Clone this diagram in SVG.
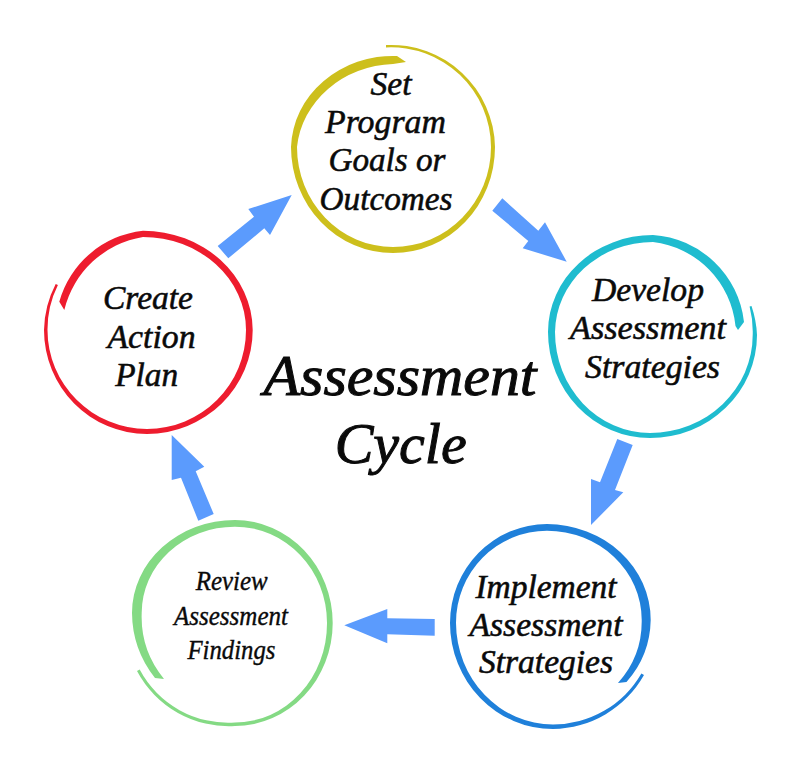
<svg xmlns="http://www.w3.org/2000/svg" width="800" height="773" viewBox="0 0 800 773">
<style>
text{font-family:"Liberation Serif","Times New Roman",serif;font-style:italic;fill:#0a0a0a;text-anchor:middle}
.n{font-size:33px;stroke:#0a0a0a;stroke-width:.55px}
.g{font-size:28px;stroke:#0a0a0a;stroke-width:.4px}
.t{font-size:58px;stroke:#0a0a0a;stroke-width:1px}
.a{fill:#5b9bfd}
</style>
<rect width="800" height="773" fill="#fff"/>
<g id="connectors">
<polygon class="a" points="291.7,195 248.3,209 254,216.7 217.7,246 228.3,258.3 264.3,228.3 270,235"/>
<polygon class="a" points="502.3,198.3 538.3,230.7 545,222.3 566.7,261.7 522.7,248.3 528.3,241 492.3,210.7"/>
<polygon class="a" points="617.3,439 632.7,445 615,490 623.3,492.3 591,525 591,479 600,482.3"/>
<polygon class="a" points="344.3,625.3 387.3,609 387.3,618.3 434.7,619 434.7,635.7 387.3,634.3 387.3,643.3"/>
<polygon class="a" points="171.7,435 204.3,466.7 195.7,471.3 213.7,514 198.3,520.7 181,477.7 171.7,480"/>
</g>
<g id="node-goals">
<path fill="#cdbf1c" d="M386,45 A104,104 0 0 1 495,147 A102,106 0 0 1 393,253 A102,106 0 0 1 291,147 A102,94 0 0 1 397,56 L406,62 L393,64 A100,92 0 0 0 297,147 A96,100 0 0 0 393,247 A98,100 0 0 0 491,147 A100,100 0 0 0 386,47.5 Z"/>
<text class="n" x="391" y="95" textLength="41" lengthAdjust="spacingAndGlyphs">Set</text>
<text class="n" x="385.5" y="133" textLength="121" lengthAdjust="spacingAndGlyphs">Program</text>
<text class="n" x="387" y="171" textLength="117" lengthAdjust="spacingAndGlyphs">Goals or</text>
<text class="n" x="386" y="210" textLength="133" lengthAdjust="spacingAndGlyphs">Outcomes</text>
</g>
<g id="node-develop">
<path fill="#1fbccf" d="M751.5,306 A104,104 0 0 1 757,335 A107,103 0 0 1 650,438 A102,106 0 0 1 548,332 A105,97 0 0 1 653,235 A98,98 0 0 1 744,322 L738,330 L735.5,326 A94,94 0 0 0 653,242 A98,91 0 0 0 555,332 A95,101 0 0 0 650,433 A103,98 0 0 0 752.7,335 A100,100 0 0 0 749.6,306.6 Z"/>
<text class="n" x="648" y="301" textLength="112" lengthAdjust="spacingAndGlyphs">Develop</text>
<text class="n" x="648" y="339" textLength="156" lengthAdjust="spacingAndGlyphs">Assessment</text>
<text class="n" x="652.5" y="378" textLength="135" lengthAdjust="spacingAndGlyphs">Strategies</text>
</g>
<g id="node-implement">
<path fill="#1f80da" d="M644,675 A106,106 0 0 1 553,729 A103,106 0 0 1 450,623 A97,99 0 0 1 547,524 A104,96 0 0 1 650.7,620 A96,96 0 0 1 626.5,682 L618,683 A92,92 0 0 0 641.7,620 A95,89 0 0 0 547,530.7 A91,92 0 0 0 456,623 A97,102 0 0 0 553,724.5 A102,102 0 0 0 641.4,673.5 Z"/>
<text class="n" x="546" y="598" textLength="141" lengthAdjust="spacingAndGlyphs">Implement</text>
<text class="n" x="546" y="636" textLength="153" lengthAdjust="spacingAndGlyphs">Assessment</text>
<text class="n" x="546" y="673" textLength="134" lengthAdjust="spacingAndGlyphs">Strategies</text>
</g>
<g id="node-review">
<path fill="#84da84" d="M137,671 A104,104 0 0 0 235,726 A98,103 0 0 0 332.7,623 A98,103 0 0 0 235,520 A103,93 0 0 0 132,613 A106,106 0 0 0 155,678 L164,679 A98,98 0 0 1 141.7,613 A93,86 0 0 1 235,526.7 A92,96 0 0 1 327,623 A92,99 0 0 1 235,722.5 A100,100 0 0 1 139.7,669.6 Z"/>
<text class="g" x="231.7" y="590" textLength="72" lengthAdjust="spacingAndGlyphs">Review</text>
<text class="g" x="231" y="625" textLength="114" lengthAdjust="spacingAndGlyphs">Assessment</text>
<text class="g" x="231.5" y="659" textLength="88" lengthAdjust="spacingAndGlyphs">Findings</text>
</g>
<g id="node-action">
<path fill="#ee1c2e" d="M55.7,284 A104,104 0 0 0 44,330 A103,104 0 0 0 147,434 A106,104 0 0 0 252.7,330 A110,100 0 0 0 143,230.7 A98,98 0 0 0 59.3,301.7 L64.3,310 A97,97 0 0 1 143,237 A103,93 0 0 1 246,330 A99,99 0 0 1 147,429 A100,99 0 0 1 47.5,330 A100,100 0 0 1 57.9,285.1 Z"/>
<text class="n" x="148" y="309" textLength="90" lengthAdjust="spacingAndGlyphs">Create</text>
<text class="n" x="151.5" y="348" textLength="88" lengthAdjust="spacingAndGlyphs">Action</text>
<text class="n" x="146.7" y="386" textLength="63" lengthAdjust="spacingAndGlyphs">Plan</text>
</g>
<g id="title">
<text class="t" x="400" y="395" textLength="273" lengthAdjust="spacingAndGlyphs">Assessment</text>
<text class="t" x="400.7" y="463" textLength="132" lengthAdjust="spacingAndGlyphs">Cycle</text>
</g>
</svg>
